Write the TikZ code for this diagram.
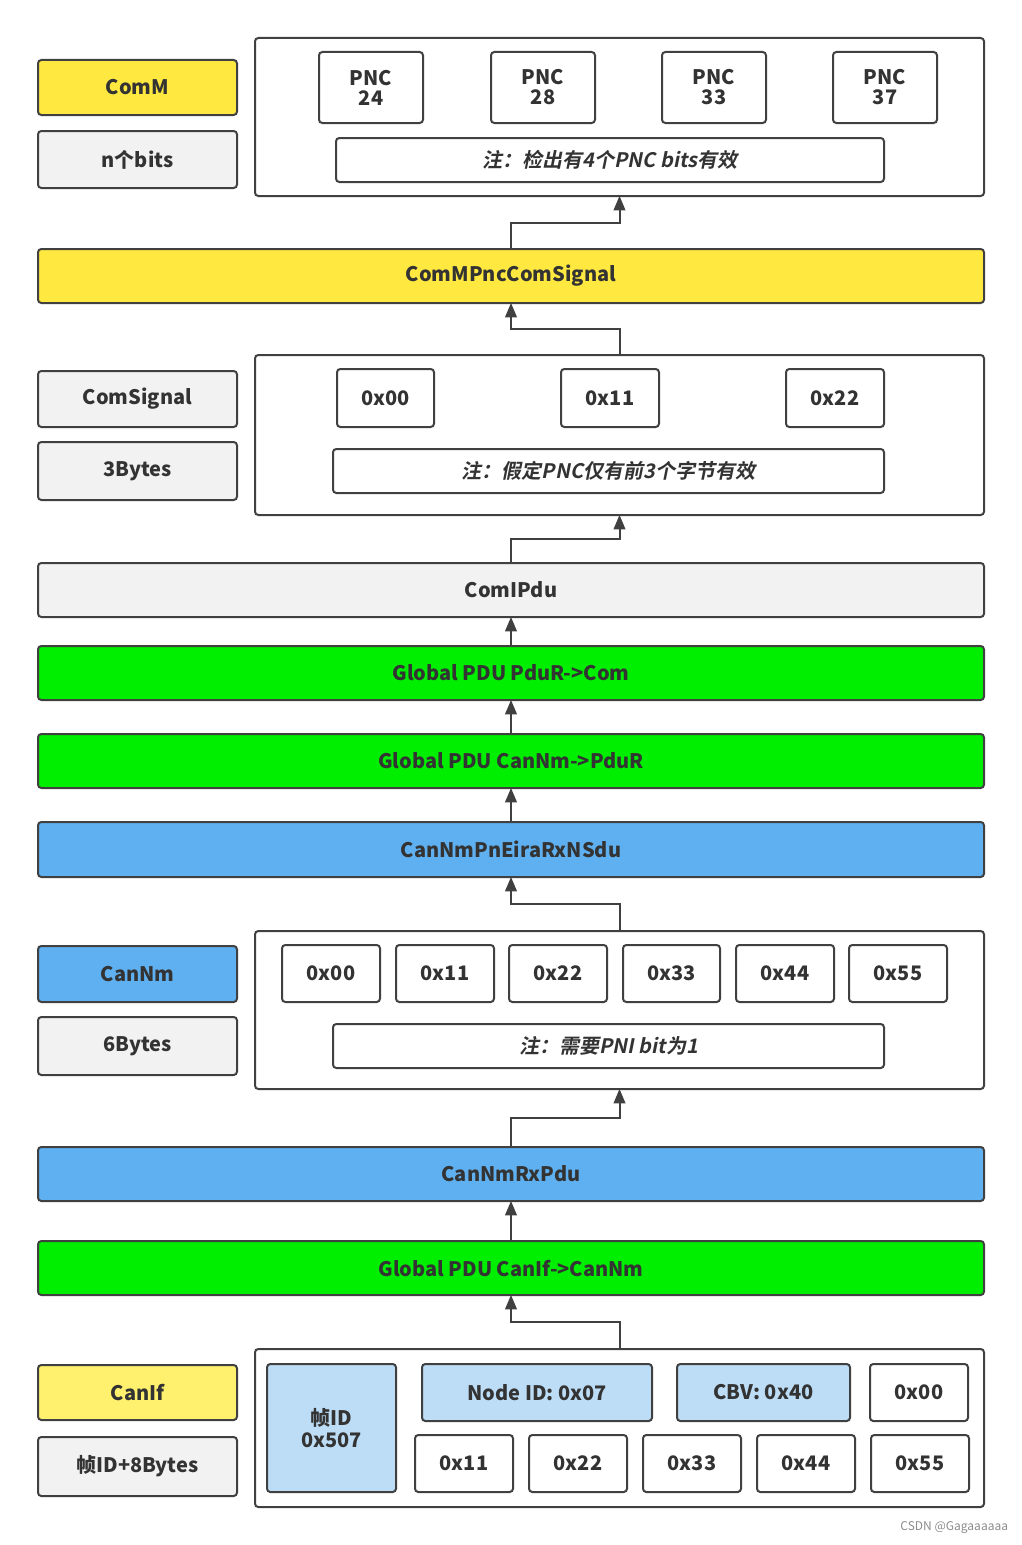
\documentclass[tikz,border=0pt]{standalone}
\usepackage{fontspec}
\setmainfont{Noto Sans CJK SC}
\newfontfamily\notefont{Noto Sans CJK SC}[UprightFont=* Bold, FakeSlant=0.2]
\usetikzlibrary{arrows,calc,positioning}
\definecolor{cyellow}{RGB}{255,232,64}
\definecolor{cyellowl}{RGB}{255,240,110}
\definecolor{cgray}{RGB}{242,242,242}
\definecolor{cgreen}{RGB}{0,238,0}
\definecolor{cblue}{RGB}{95,176,240}
\definecolor{cbluel}{RGB}{189,221,247}
\definecolor{cline}{RGB}{64,64,64}
\newcommand\pbox[7]{\node[#2,minimum width={(#5-#3)*0.75pt},minimum height={(#6-#4)*0.75pt}] (#1) at ({(#3+#5)/2},{(#4+#6)/2}) {#7};}
\begin{document}
\begin{tikzpicture}[x=0.75pt,y=-0.75pt,>=triangle 45,
  every node/.style={font=\fontsize{15}{17}\selectfont\bfseries,text=black!80,inner sep=0pt,outer sep=0pt,align=center},
  box/.style={draw=cline,line width=1.5pt,rounded corners=2.5pt,fill=white},
  note/.style={box,font=\fontsize{15}{17}\notefont},
  arr/.style={->,draw=cline,line width=1.5pt}]
\useasboundingbox (0,0) rectangle (1021,1545);

% ComM
\pbox{comm}{box,fill=cyellow}{38}{60}{237}{115}{ComM}
\pbox{nbits}{box,fill=cgray}{38}{131}{237}{188}{n个bits}
\pbox{pncbox}{box}{255}{38}{984}{196}{}
\pbox{pnca}{box}{319}{52}{423}{123}{PNC\\[-2pt]24}
\pbox{pncb}{box}{491}{52}{595}{123}{PNC\\[-2pt]28}
\pbox{pncc}{box}{662}{52}{766}{123}{PNC\\[-2pt]33}
\pbox{pncd}{box}{833}{52}{937}{123}{PNC\\[-2pt]37}
\pbox{pncnote}{note}{336}{138}{884}{182}{注：检出有4个PNC bits有效}
\pbox{pncsig}{box,fill=cyellow}{38}{249}{984}{303}{ComMPncComSignal}

% ComSignal
\pbox{comsig}{box,fill=cgray}{38}{371}{237}{427}{ComSignal}
\pbox{threeb}{box,fill=cgray}{38}{442}{237}{500}{3Bytes}
\pbox{sigbox}{box}{255}{355}{984}{515}{}
\pbox{siga}{box}{337}{369}{434}{427}{0x00}
\pbox{sigb}{box}{561}{369}{659}{427}{0x11}
\pbox{sigc}{box}{786}{369}{884}{427}{0x22}
\pbox{signote}{note}{333}{449}{884}{493}{注：假定PNC仅有前3个字节有效}

% PDUs
\pbox{ipdu}{box,fill=cgray}{38}{563}{984}{617}{ComIPdu}
\pbox{pdurcom}{box,fill=cgreen}{38}{646}{984}{700}{Global PDU PduR->Com}
\pbox{nmpdur}{box,fill=cgreen}{38}{734}{984}{788}{Global PDU CanNm->PduR}
\pbox{eira}{box,fill=cblue}{38}{822}{984}{877}{CanNmPnEiraRxNSdu}

% CanNm
\pbox{cannm}{box,fill=cblue}{38}{946}{237}{1002}{CanNm}
\pbox{sixb}{box,fill=cgray}{38}{1017}{237}{1075}{6Bytes}
\pbox{nmbox}{box}{255}{931}{984}{1089}{}
\pbox{nma}{box}{282}{945}{380}{1002}{0x00}
\pbox{nmb}{box}{396}{945}{494}{1002}{0x11}
\pbox{nmc}{box}{509}{945}{607}{1002}{0x22}
\pbox{nmd}{box}{623}{945}{720}{1002}{0x33}
\pbox{nme}{box}{736}{945}{834}{1002}{0x44}
\pbox{nmf}{box}{849}{945}{947}{1002}{0x55}
\pbox{nmnote}{note}{333}{1024}{884}{1068}{注：需要PNI bit为1}
\pbox{nmrx}{box,fill=cblue}{38}{1147}{984}{1201}{CanNmRxPdu}
\pbox{ifnm}{box,fill=cgreen}{38}{1241}{984}{1295}{Global PDU CanIf->CanNm}

% CanIf
\pbox{canif}{box,fill=cyellowl}{38}{1365}{237}{1420}{CanIf}
\pbox{eightb}{box,fill=cgray}{38}{1437}{237}{1496}{帧ID+8Bytes}
\pbox{ifbox}{box}{255}{1349}{984}{1507}{}
\pbox{frid}{box,fill=cbluel}{267}{1364}{396}{1492}{帧ID\\0x507}
\pbox{nodeid}{box,fill=cbluel}{422}{1364}{652}{1421}{Node ID: 0x07}
\pbox{cbv}{box,fill=cbluel}{677}{1364}{850}{1421}{CBV: 0x40}
\pbox{ifa}{box}{870}{1364}{968}{1421}{0x00}
\pbox{ifb}{box}{415}{1435}{513}{1492}{0x11}
\pbox{ifc}{box}{529}{1435}{627}{1492}{0x22}
\pbox{ifd}{box}{643}{1435}{741}{1492}{0x33}
\pbox{ife}{box}{757}{1435}{855}{1492}{0x44}
\pbox{iff}{box}{871}{1435}{969}{1492}{0x55}

% connectors
\foreach \a/\b in {pncsig/pncbox,sigbox/pncsig,ipdu/sigbox,pdurcom/ipdu,nmpdur/pdurcom,eira/nmpdur,
  nmbox/eira,nmrx/nmbox,ifnm/nmrx,ifbox/ifnm}
  \draw[arr] (\a.north) |- ($(\a.north)!.5!(\b.south)$) -| (\b.south);

\node[font=\fontsize{9}{10}\selectfont,text=black!45,anchor=east] (mark) at (1008,1528) {CSDN @Gagaaaaaa};
\end{tikzpicture}
\end{document}
